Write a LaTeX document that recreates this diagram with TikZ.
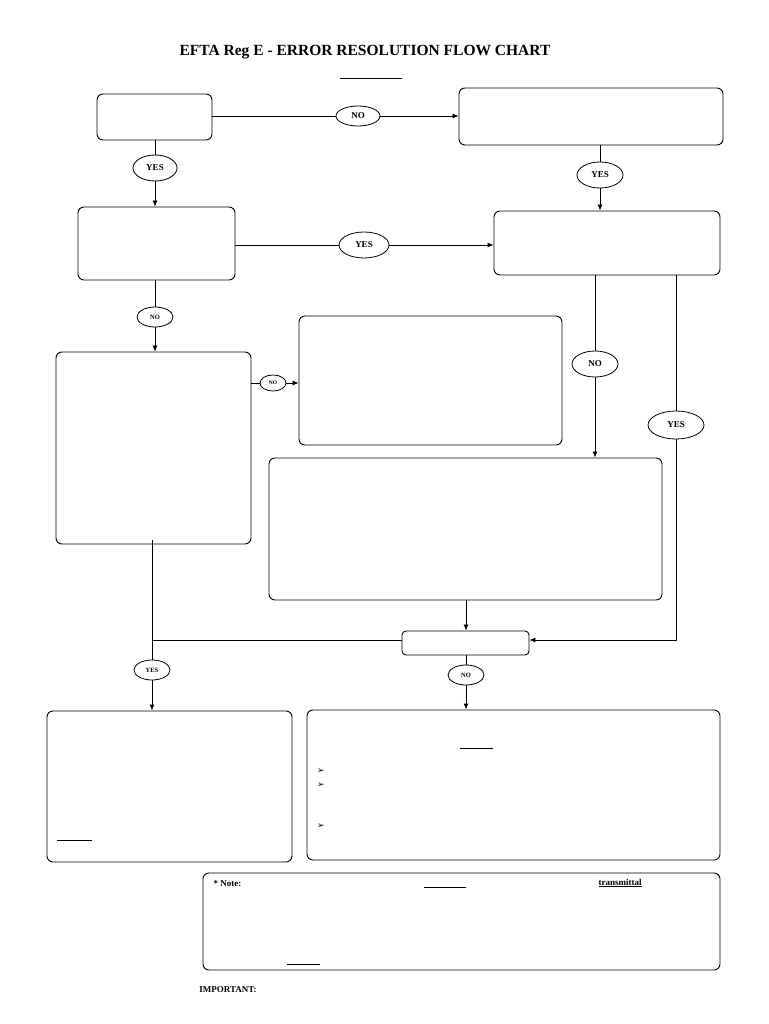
\documentclass[tikz,border=0pt]{standalone}
\usepackage{fontspec}
\setmainfont{Liberation Serif}
\newfontfamily\arrowfont{DejaVu Sans}
\usetikzlibrary{shapes.geometric,arrows.meta}
\begin{document}
\begin{tikzpicture}[x=1pt,y=-1pt,
 box/.style={draw,rounded corners=6pt,line width=0.9pt},
 el/.style={draw,ellipse,line width=0.8pt,inner sep=0pt,font=\bfseries\fontsize{9}{9}\selectfont},
 ln/.style={line width=0.8pt},
 ar/.style={ln,-{Latex[length=6pt,width=5pt]}},
 bul/.style={font=\arrowfont\fontsize{9}{9}\selectfont}]
\useasboundingbox (0,0) rectangle (768,1024);
\node[font=\bfseries\fontsize{15.5}{15.5}\selectfont] (title) at (365,52) {EFTA Reg E - ERROR RESOLUTION FLOW CHART};
\draw[ln] (340,78) -- (402,78);
\node[box,minimum width=115,minimum height=46] (b1) at (154.5,117) {};
\node[box,minimum width=264,minimum height=57] (b2) at (591,116.5) {};
\node[box,minimum width=157,minimum height=73] (b3) at (156.5,243.5) {};
\node[box,minimum width=226,minimum height=64] (b4) at (607,243) {};
\node[box,minimum width=195,minimum height=192] (b5) at (153.5,448) {};
\node[box,minimum width=263,minimum height=129] (b6) at (430.5,380.5) {};
\node[box,minimum width=393,minimum height=142] (b7) at (465.5,529) {};
\node[box,rounded corners=4pt,minimum width=127,minimum height=24] (b8) at (465.5,643) {};
\node[box,minimum width=245,minimum height=151] (b9) at (169.5,786.5) {};
\node[box,minimum width=413,minimum height=150] (b10) at (513.5,785) {};
\node[box,minimum width=517,minimum height=97] (b11) at (461.5,921.5) {};
% ellipses
\node[el,minimum width=44,minimum height=20] (e1) at (358,116) {NO};
\node[el,minimum width=44,minimum height=26] (e2) at (155,168) {YES};
\node[el,minimum width=46,minimum height=26] (e3) at (600,175) {YES};
\node[el,minimum width=50,minimum height=26] (e4) at (364,245) {YES};
\node[el,minimum width=36,minimum height=20,font=\bfseries\fontsize{6.5}{6.5}\selectfont] (e5) at (155,317) {NO};
\node[el,minimum width=26,minimum height=16,font=\bfseries\fontsize{5.5}{5.5}\selectfont] (e6) at (273,383) {NO};
\node[el,minimum width=46,minimum height=26] (e7) at (595,364) {NO};
\node[el,minimum width=56,minimum height=28] (e8) at (676,425) {YES};
\node[el,minimum width=36,minimum height=20,font=\bfseries\fontsize{6.5}{6.5}\selectfont] (e9) at (152,670) {YES};
\node[el,minimum width=36,minimum height=20,font=\bfseries\fontsize{6.5}{6.5}\selectfont] (e10) at (466,675) {NO};
% connectors
\draw[ln] (b1.east|-e1) -- (e1);
\draw[ar] (e1) -- (b2.west|-e1);
\draw[ln] (b2.south-|e3) -- (e3);
\draw[ar] (e3) -- (b4.north-|e3);
\draw[ln] (b1.south-|e2) -- (e2);
\draw[ar] (e2) -- (b3.north-|e2);
\draw[ln] (b3.east|-e4) -- (e4);
\draw[ar] (e4) -- (b4.west|-e4);
\draw[ln] (b3.south-|e5) -- (e5);
\draw[ar] (e5) -- (b5.north-|e5);
\draw[ln] (b5.east|-e6) -- (e6);
\draw[ar] (e6) -- (b6.west|-e6);
\draw[ln] (b4.south-|e7) -- (e7);
\draw[ar] (e7) -- (b7.north-|e7);
\draw[ln] (b4.south-|e8) -- (e8);
\coordinate (c1) at (676,640);
\draw[ar] (e8) -- (c1) -- (b8.east|-c1);
\draw[ar] (b7.south-|466,0) -- (b8.north-|466,0);
\coordinate (c2) at (152,540);
\coordinate (c3) at (152,640);
\draw[ln] (c2) -- (c3) -- (b8.west|-c3);
\draw[ln] (c3) -- (e9);
\draw[ar] (e9) -- (b9.north-|e9);
\draw[ln] (b8.south-|e10) -- (e10);
\draw[ar] (e10) -- (b10.north-|e10);
% inner marks
\draw[ln] (460,748) -- (493,748);
\node[bul] (m1) at (321,771) {➢};
\node[bul] (m2) at (321,785) {➢};
\node[bul] (m3) at (321,826) {➢};
\draw[ln] (57,840) -- (92,840);
\node[anchor=west,font=\bfseries\fontsize{9}{9}\selectfont] (n1) at (210,884) {* Note:};
\draw[ln] (424,887) -- (466,887);
\node[font=\bfseries\fontsize{9}{9}\selectfont] (n2) at (620,883) {\underline{transmittal}};
\draw[ln] (287,964) -- (320,964);
\node[font=\bfseries\fontsize{9}{9}\selectfont] (n3) at (228,990) {IMPORTANT:};
\end{tikzpicture}
\end{document}
